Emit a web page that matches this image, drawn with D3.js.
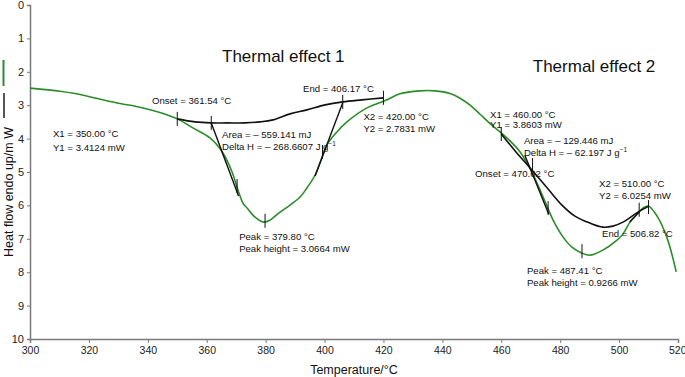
<!DOCTYPE html>
<html><head><meta charset="utf-8">
<script src="https://cdn.jsdelivr.net/npm/d3@7"></script>
<style>
html,body{margin:0;padding:0;background:#fff;}
svg{display:block;font-family:"Liberation Sans",Arial,sans-serif;}
</style></head>
<body><svg id="c" width="685" height="377"></svg>
<script>
// ---- data ----
const xTicks = [300,320,340,360,380,400,420,440,460,480,500,520];
const yTicks = [0,1,2,3,4,5,6,7,8,9,10];
// DSC signal (temperature °C, heat flow mW)
const dscT = [300,310.2,315.3,323.8,330.6,337.3,344.1,350,355.3,361.1,365.5,368.6,370.6,372.3,373.7,376.4,379.4,381.5,384.9,388.3,391.7,394.0,396.8,398.8,400.8,404.2,407.6,414.4,421.2,425.6,432.4,437.5,442.6,446.0,449.4,452.8,456.2,459.6,463.0,466.4,470.4,474.2,477.6,481.0,484.0,487.4,490.1,494.5,499.3,501.3,503.7,506.4,508.1,509.9,512.9,516.3,519.4];
const dscV = [2.49,2.58,2.65,2.82,2.95,3.06,3.22,3.41,3.68,3.98,4.43,5.00,5.54,5.93,6.08,6.35,6.50,6.44,6.20,5.99,5.75,5.48,5.09,4.64,4.19,3.80,3.50,3.08,2.84,2.66,2.57,2.57,2.65,2.79,3.00,3.27,3.55,3.80,4.07,4.40,5.00,5.75,6.44,6.95,7.25,7.43,7.49,7.34,7.04,6.86,6.50,6.23,6.08,6.02,6.32,6.98,7.99];
// integration baseline, effect 1
const base1T = [350,356.0,361.54,366.9,373.0,378.1,382.5,388.3,394.0,400.2,406.17,412.7,420];
const base1V = [3.41,3.50,3.53,3.53,3.53,3.50,3.44,3.26,3.14,2.99,2.90,2.84,2.78];
// integration baseline, effect 2
const base2T = [460,465.0,470.4,475.9,480.6,485.0,490.1,494.5,497.9,501.3,506.4,510];
const base2V = [3.86,4.40,4.94,5.51,5.99,6.32,6.53,6.65,6.62,6.50,6.20,6.03];
// tangent segments [T1,V1,T2,V2]
const tangents = [[361.54,3.53,370.8,5.72],[406.17,2.93,396.8,5.12],[468.0,4.50,476.1,6.26],[506.82,6.20,503.6,6.50]];
// marker ticks
const markT = [350,361.54,370.3,379.8,399.3,406.17,420,460,470.62,475.9,487.41,506.82,510];
const markV = [3.41,3.53,5.42,6.46,4.40,2.90,2.78,3.86,4.79,6.08,7.37,6.13,6.05];
// annotation labels
const labelTexts = [
 {t:"Onset = 361.54 °C", x:341.4, y:2.96},
 {t:"End = 406.17 °C", x:392.7, y:2.60},
 {t:"X1 = 350.00 °C", x:307.8, y:3.95},
 {t:"Y1 = 3.4124 mW", x:307.8, y:4.37},
 {t:"Area = – 559.141 mJ", x:365.2, y:3.99},
 {t:"Delta H = – 268.6607 J g", sup:"−1", x:365.2, y:4.34},
 {t:"X2 = 420.00 °C", x:413.2, y:3.45},
 {t:"Y2 = 2.7831 mW", x:413.2, y:3.80},
 {t:"Peak = 379.80 °C", x:371.0, y:7.03},
 {t:"Peak height = 3.0664 mW", x:371.0, y:7.39},
 {t:"X1 = 460.00 °C", x:456.2, y:3.38},
 {t:"Y1 = 3.8603 mW", x:456.2, y:3.69},
 {t:"Area = – 129.446 mJ", x:467.7, y:4.16},
 {t:"Delta H = – 62.197 J g", sup:"−1", x:467.7, y:4.52},
 {t:"Onset = 470.62 °C", x:451.1, y:5.15},
 {t:"X2 = 510.00 °C", x:493.2, y:5.45},
 {t:"Y2 = 6.0254 mW", x:493.2, y:5.81},
 {t:"End = 506.82 °C", x:494.2, y:6.94},
 {t:"Peak = 487.41 °C", x:468.7, y:8.05},
 {t:"Peak height = 0.9266 mW", x:468.7, y:8.41}
];
const titles = [
 {t:"Thermal effect 1", x:386.0, y:1.72},
 {t:"Thermal effect 2", x:491.5, y:2.02}
];
const xTitle = "Temperature/°C";
const yTitle = "Heat flow endo up/m W";

// ---- drawing ----
const svg = d3.select("#c");
const x = d3.scaleLinear().domain([300,520]).range([30,678]);
const y = d3.scaleLinear().domain([0,10]).range([5,339]);
const axisCol = "#7a7a7a";

const xa = svg.append("g").attr("transform","translate(0,339)")
  .call(d3.axisBottom(x).tickValues(xTicks).tickSize(4).tickPadding(4).tickFormat(d3.format("d")));
const ya = svg.append("g").attr("transform","translate(30,0)")
  .call(d3.axisLeft(y).tickValues(yTicks).tickSize(3).tickPadding(3).tickFormat(d3.format("d")));
[xa,ya].forEach(a=>{
  a.select(".domain").attr("stroke",axisCol).attr("stroke-width",1.5);
  a.selectAll(".tick line").attr("stroke",axisCol).attr("stroke-width",1);
  a.selectAll(".tick text").attr("fill","#222").style("font-family","Liberation Sans, Arial, sans-serif");
});
ya.selectAll(".tick text").style("font-size","11px");
xa.selectAll(".tick text").style("font-size","10.5px");
xa.selectAll(".tick text").filter(d=>d===520).attr("text-anchor","end").attr("dx","8");

const line = d3.line().x(d=>x(d[0])).y(d=>y(d[1])).curve(d3.curveCatmullRom.alpha(0.5));
const zip = (a,b)=>a.map((v,i)=>[v,b[i]]);

svg.append("path").datum(zip(dscT,dscV)).attr("d",line)
  .attr("fill","none").attr("stroke","#2a8c2a").attr("stroke-width",1.6);
svg.append("path").datum(zip(base1T,base1V)).attr("d",line)
  .attr("fill","none").attr("stroke","#111").attr("stroke-width",1.6);
svg.append("path").datum(zip(base2T,base2V)).attr("d",line)
  .attr("fill","none").attr("stroke","#111").attr("stroke-width",1.6);
svg.selectAll("line.tan").data(tangents).join("line").attr("class","tan")
  .attr("x1",d=>x(d[0])).attr("y1",d=>y(d[1])).attr("x2",d=>x(d[2])).attr("y2",d=>y(d[3]))
  .attr("stroke","#111").attr("stroke-width",1.4);
svg.selectAll("line.mk").data(zip(markT,markV)).join("line").attr("class","mk")
  .attr("x1",d=>x(d[0])).attr("x2",d=>x(d[0]))
  .attr("y1",d=>y(d[1])-7).attr("y2",d=>y(d[1])+7)
  .attr("stroke","#111").attr("stroke-width",1);

// legend strokes on the left
svg.append("line").attr("x1",3.5).attr("x2",3.5).attr("y1",60).attr("y2",86).attr("stroke","#2a8c2a").attr("stroke-width",2);
svg.append("line").attr("x1",4).attr("x2",4).attr("y1",93).attr("y2",118).attr("stroke","#555").attr("stroke-width",2);

const lab = svg.selectAll("text.lab").data(labelTexts).join("text").attr("class","lab")
  .attr("x",d=>x(d.x)).attr("y",d=>y(d.y))
  .attr("fill","#111").style("font-size","9.6px")
  .text(d=>d.t);
lab.filter(d=>d.sup).append("tspan").attr("dy",-4).style("font-size","6.5px").text(d=>d.sup);

svg.selectAll("text.ttl").data(titles).join("text").attr("class","ttl")
  .attr("x",d=>x(d.x)).attr("y",d=>y(d.y)).attr("text-anchor","middle")
  .attr("fill","#111").style("font-size","17px").text(d=>d.t);

svg.append("text").attr("x",354).attr("y",374).attr("text-anchor","middle")
  .attr("fill","#111").style("font-size","12.5px").text(xTitle);
svg.append("text").attr("transform","translate(13,192) rotate(-90)").attr("text-anchor","middle")
  .attr("fill","#111").style("font-size","12.5px").text(yTitle);
</script></body></html>
